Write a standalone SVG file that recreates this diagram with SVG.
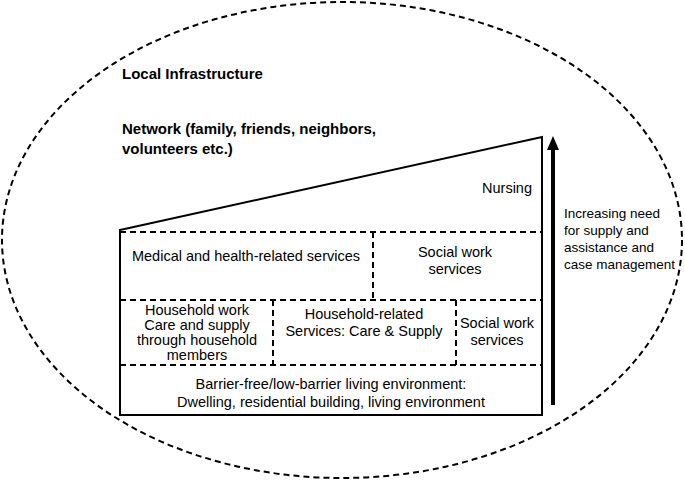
<svg xmlns="http://www.w3.org/2000/svg" width="685" height="481" viewBox="0 0 685 481">
<style>
text{font-family:"Liberation Sans",Arial,sans-serif;font-size:14.5px;fill:#000}
.b{font-weight:bold;font-size:15px}
.m{text-anchor:middle}
.n{font-size:13.5px}
.d{stroke:#000;stroke-width:2;stroke-dasharray:6,4;fill:none}
.s{stroke:#000;stroke-width:2;fill:none}
</style>
<g id="infra"><ellipse cx="342" cy="240" rx="340" ry="238" class="d"/>
<text x="122" y="79" class="b">Local Infrastructure</text></g>
<g id="network"><text x="122" y="134" class="b">Network (family, friends, neighbors,</text><text x="122" y="154" class="b">volunteers etc.)</text></g>
<g id="frame"><path d="M120,230 L542,137 L542,415 L120,415 Z" class="s"/></g>
<g id="dividers"><line x1="120" y1="232" x2="542" y2="232" class="d"/><line x1="120" y1="300" x2="542" y2="300" class="d"/><line x1="120" y1="365" x2="542" y2="365" class="d"/>
<line x1="373" y1="232" x2="373" y2="300" class="d"/><line x1="273" y1="300" x2="273" y2="365" class="d"/><line x1="456" y1="300" x2="456" y2="365" class="d"/></g>
<g id="nursing"><text x="532" y="193" text-anchor="end">Nursing</text></g>
<g id="medical"><text x="246" y="261" class="m">Medical and health-related services</text></g>
<g id="social1"><text x="455" y="257" class="m">Social work</text><text x="455" y="274" class="m">services</text></g>
<g id="household"><text x="197" y="315" class="m">Household work</text><text x="197" y="330" class="m">Care and supply</text><text x="197" y="345" class="m">through household</text><text x="197" y="360" class="m">members</text></g>
<g id="hrel"><text x="364" y="319" class="m">Household-related</text><text x="364" y="336" class="m">Services: Care &amp; Supply</text></g>
<g id="social2"><text x="497" y="328" class="m">Social work</text><text x="497" y="345" class="m">services</text></g>
<g id="barrier"><text x="331" y="389" class="m">Barrier-free/low-barrier living environment:</text><text x="331" y="407" class="m">Dwelling, residential building, living environment</text></g>
<g id="connectors"><line x1="553" y1="405" x2="553" y2="148" stroke="#000" stroke-width="4"/><path d="M547,150 L553,136 L559,150 Z" fill="#000"/></g>
<g id="need"><text x="564" y="218" class="n">Increasing need</text><text x="564" y="235" class="n">for supply and</text><text x="564" y="252" class="n">assistance and</text><text x="564" y="269" class="n">case management</text></g>
</svg>
